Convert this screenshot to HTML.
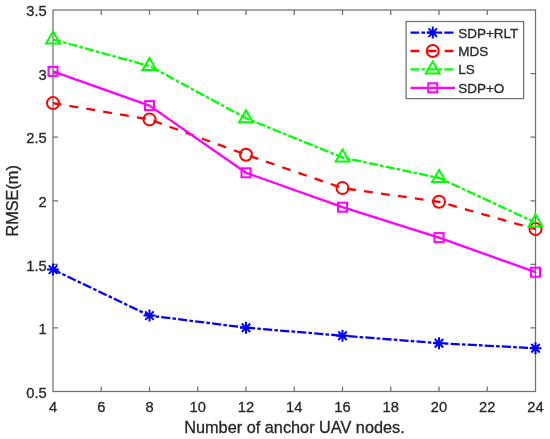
<!DOCTYPE html>
<html><head><meta charset="utf-8"><title>RMSE plot</title>
<style>html,body{margin:0;padding:0;background:#fff;}svg{display:block;}</style>
</head><body>
<svg width="550" height="439" viewBox="0 0 550 439">
<rect width="550" height="439" fill="#ffffff"/>
<rect x="53.00" y="10.00" width="482.50" height="381.50" fill="none" stroke="#707070" stroke-width="1.25"/>
<path d="M101.25 391.50V386.50M101.25 10.00V15.00M149.50 391.50V386.50M149.50 10.00V15.00M197.75 391.50V386.50M197.75 10.00V15.00M246.00 391.50V386.50M246.00 10.00V15.00M294.25 391.50V386.50M294.25 10.00V15.00M342.50 391.50V386.50M342.50 10.00V15.00M390.75 391.50V386.50M390.75 10.00V15.00M439.00 391.50V386.50M439.00 10.00V15.00M487.25 391.50V386.50M487.25 10.00V15.00M53.00 327.92H58.00M535.50 327.92H530.50M53.00 264.33H58.00M535.50 264.33H530.50M53.00 200.75H58.00M535.50 200.75H530.50M53.00 137.17H58.00M535.50 137.17H530.50M53.00 73.58H58.00M535.50 73.58H530.50" fill="none" stroke="#707070" stroke-width="1.25"/>
<path d="M53.00 269.60 L149.50 315.60 L246.00 327.70 L342.50 335.70 L439.00 343.20 L535.50 348.20" fill="none" stroke="#0000ff" stroke-width="2.3" stroke-dasharray="9.15 2.2 3.55 2.2" stroke-dashoffset="1.0" stroke-linejoin="round"/>
<path d="M47.00 269.60H59.00M53.00 263.60V275.60M48.76 265.36L57.24 273.84M48.76 273.84L57.24 265.36" fill="none" stroke="#0000ff" stroke-width="2.0"/>
<path d="M143.50 315.60H155.50M149.50 309.60V321.60M145.26 311.36L153.74 319.84M145.26 319.84L153.74 311.36" fill="none" stroke="#0000ff" stroke-width="2.0"/>
<path d="M240.00 327.70H252.00M246.00 321.70V333.70M241.76 323.46L250.24 331.94M241.76 331.94L250.24 323.46" fill="none" stroke="#0000ff" stroke-width="2.0"/>
<path d="M336.50 335.70H348.50M342.50 329.70V341.70M338.26 331.46L346.74 339.94M338.26 339.94L346.74 331.46" fill="none" stroke="#0000ff" stroke-width="2.0"/>
<path d="M433.00 343.20H445.00M439.00 337.20V349.20M434.76 338.96L443.24 347.44M434.76 347.44L443.24 338.96" fill="none" stroke="#0000ff" stroke-width="2.0"/>
<path d="M529.50 348.20H541.50M535.50 342.20V354.20M531.26 343.96L539.74 352.44M531.26 352.44L539.74 343.96" fill="none" stroke="#0000ff" stroke-width="2.0"/>
<path d="M53.00 103.10 L149.50 119.40 L246.00 154.70 L342.50 188.10 L439.00 201.80 L535.50 229.10" fill="none" stroke="#ff0000" stroke-width="2.3" stroke-dasharray="8.8 8.3" stroke-dashoffset="0.4" stroke-linejoin="round"/>
<circle cx="53.00" cy="103.10" r="6.0" fill="none" stroke="#ff0000" stroke-width="2.0"/>
<circle cx="149.50" cy="119.40" r="6.0" fill="none" stroke="#ff0000" stroke-width="2.0"/>
<circle cx="246.00" cy="154.70" r="6.0" fill="none" stroke="#ff0000" stroke-width="2.0"/>
<circle cx="342.50" cy="188.10" r="6.0" fill="none" stroke="#ff0000" stroke-width="2.0"/>
<circle cx="439.00" cy="201.80" r="6.0" fill="none" stroke="#ff0000" stroke-width="2.0"/>
<circle cx="535.50" cy="229.10" r="6.0" fill="none" stroke="#ff0000" stroke-width="2.0"/>
<path d="M53.00 39.50 L149.50 66.00 L246.00 118.20 L342.50 157.50 L439.00 177.90 L535.50 222.50" fill="none" stroke="#00ff00" stroke-width="2.3" stroke-dasharray="9.15 2.2 3.55 2.2" stroke-dashoffset="1.0" stroke-linejoin="round"/>
<polygon points="53.00,31.50 46.07,43.50 59.93,43.50" fill="none" stroke="#00ff00" stroke-width="2.0" stroke-linejoin="miter"/>
<polygon points="149.50,58.00 142.57,70.00 156.43,70.00" fill="none" stroke="#00ff00" stroke-width="2.0" stroke-linejoin="miter"/>
<polygon points="246.00,110.20 239.07,122.20 252.93,122.20" fill="none" stroke="#00ff00" stroke-width="2.0" stroke-linejoin="miter"/>
<polygon points="342.50,149.50 335.57,161.50 349.43,161.50" fill="none" stroke="#00ff00" stroke-width="2.0" stroke-linejoin="miter"/>
<polygon points="439.00,169.90 432.07,181.90 445.93,181.90" fill="none" stroke="#00ff00" stroke-width="2.0" stroke-linejoin="miter"/>
<polygon points="535.50,214.50 528.57,226.50 542.43,226.50" fill="none" stroke="#00ff00" stroke-width="2.0" stroke-linejoin="miter"/>
<path d="M53.00 71.40 L149.50 105.60 L246.00 172.80 L342.50 207.20 L439.00 237.60 L535.50 272.20" fill="none" stroke="#ff00ff" stroke-width="2.3" stroke-linejoin="round"/>
<rect x="48.50" y="66.90" width="9.00" height="9.00" fill="none" stroke="#ff00ff" stroke-width="2.0"/>
<rect x="145.00" y="101.10" width="9.00" height="9.00" fill="none" stroke="#ff00ff" stroke-width="2.0"/>
<rect x="241.50" y="168.30" width="9.00" height="9.00" fill="none" stroke="#ff00ff" stroke-width="2.0"/>
<rect x="338.00" y="202.70" width="9.00" height="9.00" fill="none" stroke="#ff00ff" stroke-width="2.0"/>
<rect x="434.50" y="233.10" width="9.00" height="9.00" fill="none" stroke="#ff00ff" stroke-width="2.0"/>
<rect x="531.00" y="267.70" width="9.00" height="9.00" fill="none" stroke="#ff00ff" stroke-width="2.0"/>
<g font-family="'Liberation Sans', Arial, Helvetica, sans-serif" font-size="14.7" fill="#262626" stroke="#262626" stroke-width="0.3"><text x="53.00" y="412.4" text-anchor="middle">4</text><text x="101.25" y="412.4" text-anchor="middle">6</text><text x="149.50" y="412.4" text-anchor="middle">8</text><text x="197.75" y="412.4" text-anchor="middle">10</text><text x="246.00" y="412.4" text-anchor="middle">12</text><text x="294.25" y="412.4" text-anchor="middle">14</text><text x="342.50" y="412.4" text-anchor="middle">16</text><text x="390.75" y="412.4" text-anchor="middle">18</text><text x="439.00" y="412.4" text-anchor="middle">20</text><text x="487.25" y="412.4" text-anchor="middle">22</text><text x="535.50" y="412.4" text-anchor="middle">24</text><text x="46.7" y="397.80" text-anchor="end">0.5</text><text x="46.7" y="334.22" text-anchor="end">1</text><text x="46.7" y="270.63" text-anchor="end">1.5</text><text x="46.7" y="207.05" text-anchor="end">2</text><text x="46.7" y="143.47" text-anchor="end">2.5</text><text x="46.7" y="79.88" text-anchor="end">3</text><text x="46.7" y="16.30" text-anchor="end">3.5</text></g>
<text x="294.5" y="433" text-anchor="middle" font-family="'Liberation Sans', Arial, Helvetica, sans-serif" font-size="16.3" fill="#262626" stroke="#262626" stroke-width="0.3">Number of anchor UAV nodes.</text>
<text transform="translate(18.4 200.9) rotate(-90)" text-anchor="middle" font-family="'Liberation Sans', Arial, Helvetica, sans-serif" font-size="16.3" fill="#262626" stroke="#262626" stroke-width="0.3">RMSE(m)</text>
<rect x="406.1" y="21.5" width="117.50" height="77.10" fill="#ffffff" stroke="#707070" stroke-width="1.25"/>
<path d="M410.5 32.6H455" fill="none" stroke="#0000ff" stroke-width="2.3" stroke-dasharray="9.15 2.2 3.55 2.2" stroke-dashoffset="0.4"/>
<path d="M426.75 32.60H438.75M432.75 26.60V38.60M428.51 28.36L436.99 36.84M428.51 36.84L436.99 28.36" fill="none" stroke="#0000ff" stroke-width="2.0"/>
<text x="458.2" y="37.60" font-family="'Liberation Sans', Arial, Helvetica, sans-serif" font-size="13.5" fill="#262626" stroke="#262626" stroke-width="0.3">SDP+RLT</text>
<path d="M410.5 51.0H455" fill="none" stroke="#ff0000" stroke-width="2.3" stroke-dasharray="8.8 8.3" stroke-dashoffset="0.0"/>
<circle cx="432.75" cy="51.00" r="6.0" fill="none" stroke="#ff0000" stroke-width="2.0"/>
<text x="458.2" y="56.00" font-family="'Liberation Sans', Arial, Helvetica, sans-serif" font-size="13.5" fill="#262626" stroke="#262626" stroke-width="0.3">MDS</text>
<path d="M410.5 69.4H455" fill="none" stroke="#00ff00" stroke-width="2.3" stroke-dasharray="9.15 2.2 3.55 2.2" stroke-dashoffset="0.4"/>
<polygon points="432.75,61.40 425.82,73.40 439.68,73.40" fill="none" stroke="#00ff00" stroke-width="2.0" stroke-linejoin="miter"/>
<text x="458.2" y="74.40" font-family="'Liberation Sans', Arial, Helvetica, sans-serif" font-size="13.5" fill="#262626" stroke="#262626" stroke-width="0.3">LS</text>
<path d="M410.5 87.8H455" fill="none" stroke="#ff00ff" stroke-width="2.3"/>
<rect x="428.25" y="83.30" width="9.00" height="9.00" fill="none" stroke="#ff00ff" stroke-width="2.0"/>
<text x="458.2" y="92.80" font-family="'Liberation Sans', Arial, Helvetica, sans-serif" font-size="13.5" fill="#262626" stroke="#262626" stroke-width="0.3">SDP+O</text>
</svg>
</body></html>
